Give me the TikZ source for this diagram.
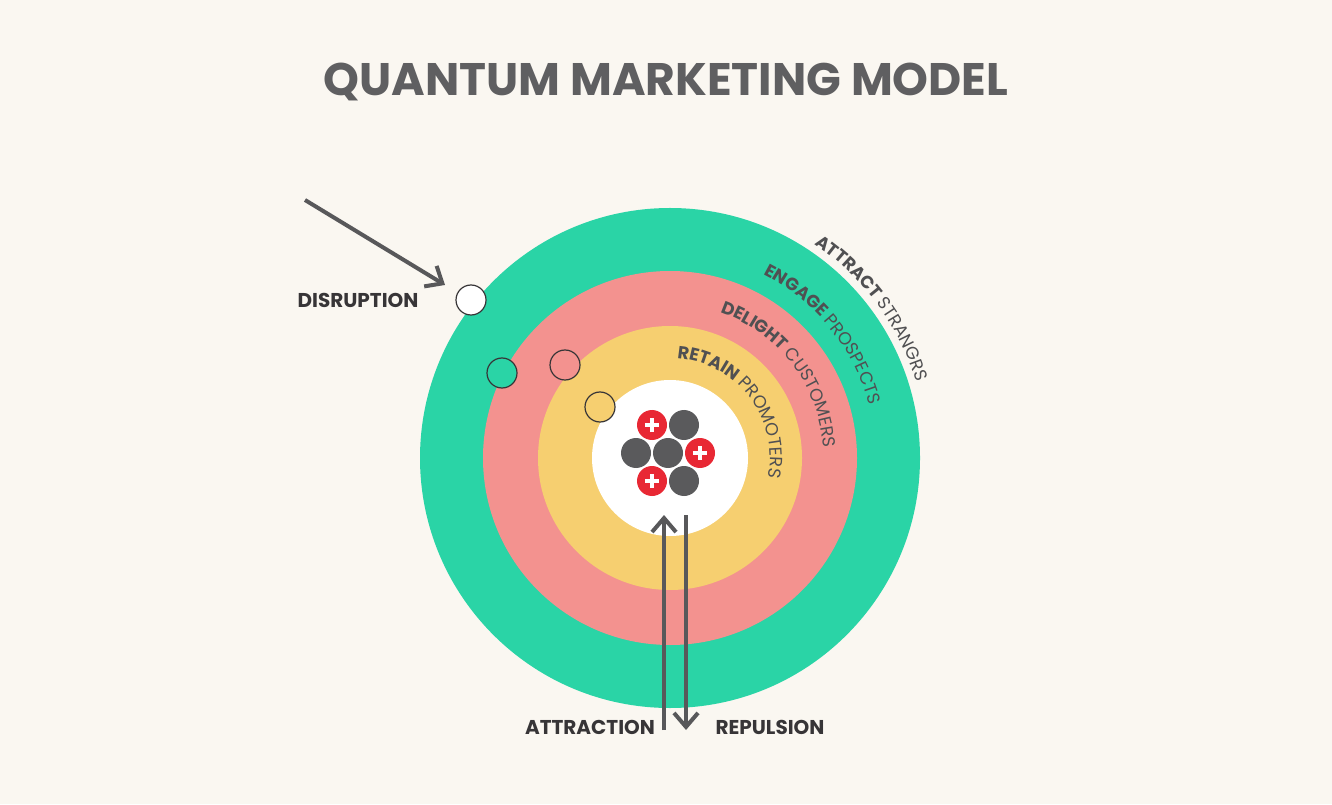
\documentclass[tikz,border=0pt]{standalone}
\usepackage{fontspec}
\setmainfont{Poppins}
\usetikzlibrary{arrows.meta, decorations.text, calc, positioning}
\definecolor{BgCream}{RGB}{250,247,241}
\definecolor{RingGreen}{RGB}{42,212,166}
\definecolor{RingPink}{RGB}{243,146,143}
\definecolor{RingYellow}{RGB}{246,207,112}
\definecolor{TitleGray}{RGB}{95,95,97}
\definecolor{TextGray}{RGB}{80,80,82}
\definecolor{LabelDark}{RGB}{55,53,55}
\definecolor{NucGray}{RGB}{90,90,92}
\definecolor{NucRed}{RGB}{232,40,52}
\definecolor{ArrowGray}{RGB}{88,88,90}
\newcommand\ringbold{\fontsize{8.8}{10}\selectfont\bfseries}
\newcommand\ringlight{\fontsize{8.8}{10}\selectfont\mdseries}
\tikzset{
  >={Straight Barb[length=7pt,width=12pt]},
  % scritte lungo gli anelli
  ring text/.style={decorate,decoration={text along path,text color=TextGray,text align=left}},
  % particelle del nucleo
  node nuc/.style={circle,inner sep=0pt,minimum size=15pt},
  node neutron/.style={node nuc,fill=NucGray},
  node proton/.style={node nuc,fill=NucRed,
    path picture={\draw[white,line width=2pt]
      ([xshift=-3.6pt]path picture bounding box.center) -- ([xshift=3.6pt]path picture bounding box.center)
      ([yshift=-3.6pt]path picture bounding box.center) -- ([yshift=3.6pt]path picture bounding box.center);}},
  % clienti sugli anelli
  node client/.style={circle,draw=LabelDark,line width=0.6pt,inner sep=0pt,minimum size=15pt},
  label bold/.style={font=\fontsize{10}{12}\selectfont\bfseries,text=LabelDark},
  move arrow/.style={->,line width=2pt,ArrowGray}
}
\begin{document}
\begin{tikzpicture}[x=0.5pt,y=0.5pt]
  \fill[BgCream] (0,0) rectangle (1332,804);
  \useasboundingbox (0,0) rectangle (1332,804);

  \node[font=\fontsize{22.8}{26}\selectfont\bfseries,text=TitleGray] (title) at (666,722) {QUANTUM MARKETING MODEL};

  % anelli
  \coordinate (ctr) at (670,346);
  \fill[RingGreen] (ctr) circle (250);
  \fill[RingPink] (ctr) circle (187);
  \fill[RingYellow] (ctr) circle (132);
  \fill[white] (ctr) circle (78);

  \path[ring text,decoration={text={|\ringbold|ATTRACT |\ringlight|STRANGRS}}]
    ($(ctr)+(56:258)$) arc (56:0:258);
  \path[ring text,decoration={text={|\ringbold|ENGAGE |\ringlight|PROSPECTS}}]
    ($(ctr)+(63:206)$) arc (63:0:206);
  \path[ring text,decoration={text={|\ringbold|DELIGHT |\ringlight|CUSTOMERS}}]
    ($(ctr)+(71:154)$) arc (71:-20:154);
  \path[ring text,decoration={text={|\ringbold|RETAIN |\ringlight|PROMOTERS}}]
    ($(ctr)+(86:100)$) arc (86:-40:100);

  % nucleo
  \node[node proton]  (p1) at (652,379) {};
  \node[node neutron] (n1) at (684,379) {};
  \node[node neutron] (n2) at (636,351) {};
  \node[node neutron] (n3) at (668,351) {};
  \node[node proton]  (p2) at (700,351) {};
  \node[node proton]  (p3) at (652,323) {};
  \node[node neutron] (n4) at (684,323) {};

  % clienti
  \node[node client,fill=white]      (cw) at (471,504) {};
  \node[node client,fill=RingGreen]  (cg) at (502,431) {};
  \node[node client,fill=RingPink]   (cp) at (565,439) {};
  \node[node client,fill=RingYellow] (cy) at (600,397) {};

  % frecce
  \coordinate (dis start) at (305,604);
  \coordinate (dis end) at (445,519);
  \draw[move arrow] (dis start) -- (dis end);
  \node[label bold] (disruption) at (358,504) {DISRUPTION};

  \coordinate (att start) at (664,74);
  \coordinate (att end) at (664,289);
  \coordinate (rep start) at (686,289);
  \coordinate (rep end) at (686,74);
  \draw[move arrow] (att start) -- (att end);
  \draw[move arrow] (rep start) -- (rep end);
  \node[label bold] (attraction) at (590,77) {ATTRACTION};
  \node[label bold] (repulsion) at (770,77) {REPULSION};
\end{tikzpicture}
\end{document}
